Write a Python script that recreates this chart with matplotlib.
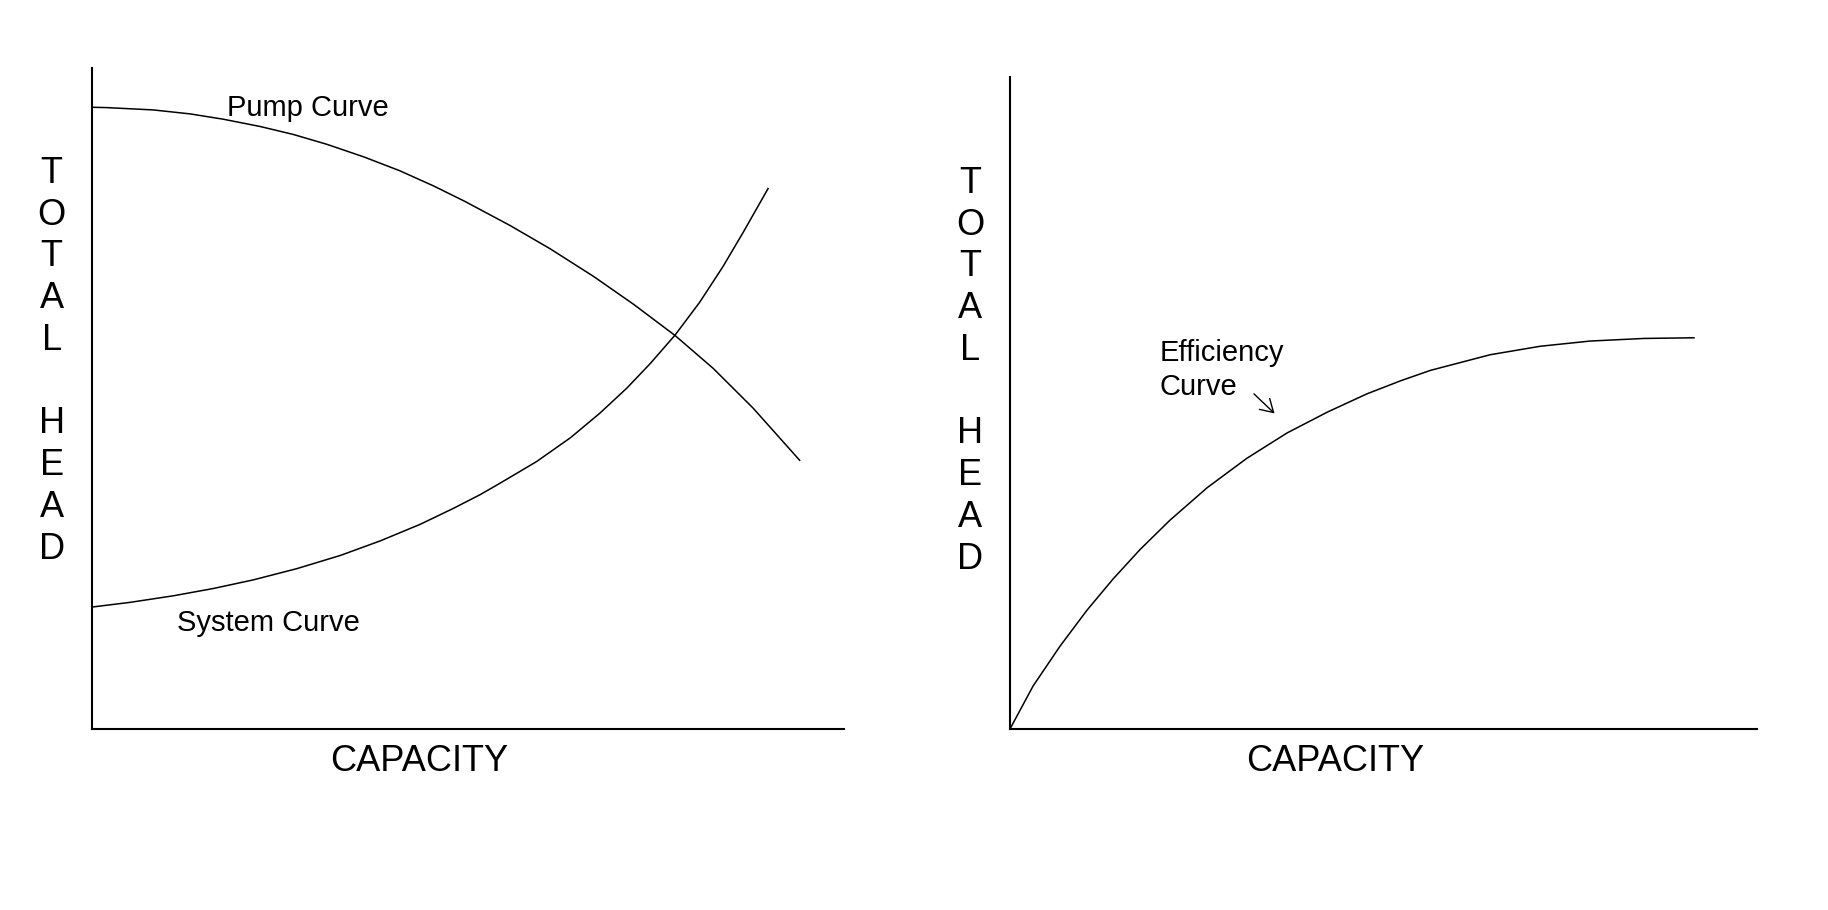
"""
Pump curve vs system curve, and efficiency curve
"""

import matplotlib
matplotlib.use('Agg')
import matplotlib.pyplot as plt

plt.rcParams['font.family'] = ['Liberation Sans', 'DejaVu Sans']

# capacity / head in percent of axis range
pump_x = [0, 1.9, 8.1, 13.0, 17.4, 22.3, 26.7, 31.2, 36.1, 40.9, 45.4, 49.5,
          55.6, 60.9, 66.7, 72.0, 77.5, 82.6, 87.9, 94.1]
pump_y = [94.0, 93.95, 93.6, 93.0, 92.2, 91.1, 89.9, 88.4, 86.5, 84.4, 82.1, 79.8,
          76.1, 72.6, 68.4, 64.2, 59.5, 54.5, 48.5, 40.6]

system_x = [0, 5.0, 10.8, 16.1, 21.4, 27.2, 33.0, 38.3, 43.6, 48.0, 51.6, 54.2,
            59.1, 63.6, 67.5, 71.1, 74.2, 77.5, 80.8, 83.9, 86.6, 89.9]
system_y = [18.4, 19.1, 20.1, 21.2, 22.5, 24.2, 26.2, 28.4, 30.9, 33.3, 35.4, 37.1,
            40.4, 44.0, 47.7, 51.5, 55.2, 59.5, 64.5, 69.9, 75.1, 81.7]

eff_x = [0, 3.1, 6.7, 10.3, 13.8, 17.4, 21.4, 26.4, 31.7, 37.1, 42.5, 47.8,
         52.3, 56.3, 64.3, 71.0, 77.7, 84.9, 91.6]
eff_y = [0, 6.6, 12.7, 18.2, 23.0, 27.5, 32.0, 37.0, 41.5, 45.4, 48.6, 51.4,
         53.4, 55.0, 57.4, 58.7, 59.5, 59.9, 60.0]

ylabel_letters = ['T', 'O', 'T', 'A', 'L', '', 'H', 'E', 'A', 'D']
xlabel = 'CAPACITY'


def setupAxes(ax):
    ax.set_xlim(0, 100)
    ax.set_ylim(0, 100)
    ax.spines['top'].set_visible(False)
    ax.spines['right'].set_visible(False)
    for s in ('left', 'bottom'):
        ax.spines[s].set_linewidth(1.5)
        ax.spines[s].set_color('black')
    ax.set_xticks([])
    ax.set_yticks([])
    ax.text(43.5, -5, xlabel, fontsize=26, ha='center', va='center')


def verticalLabel(fig, x, y0, step):
    for i, ch in enumerate(ylabel_letters):
        fig.text(x, y0 - i * step, ch, fontsize=26, ha='center', va='center')


fig = plt.figure(figsize=(18.28, 9.10), dpi=100)

ax1 = fig.add_axes([0.0505, 0.1993, 0.4112, 0.7264])
setupAxes(ax1)
ax1.plot(pump_x, pump_y, color='black', lw=1.1, solid_joinstyle='round')
ax1.plot(system_x, system_y, color='black', lw=1.1, solid_joinstyle='round')
ax1.text(17.9, 92.7, 'Pump Curve', fontsize=21, ha='left', va='baseline')
ax1.text(11.2, 14.7, 'System Curve', fontsize=21, ha='left', va='baseline')
verticalLabel(fig, 0.0283, 0.8096, 0.0459)

ax2 = fig.add_axes([0.5525, 0.1989, 0.4085, 0.7165])
setupAxes(ax2)
ax2.plot(eff_x, eff_y, color='black', lw=1.1, solid_joinstyle='round')
ax2.text(20.0, 56.5, 'Efficiency', fontsize=21, ha='left', va='baseline')
ax2.text(20.0, 51.2, 'Curve', fontsize=21, ha='left', va='baseline')
ax2.annotate('', xy=(35.7, 48.1), xytext=(32.4, 51.7),
             arrowprops=dict(arrowstyle='->,head_length=0.5,head_width=0.3',
                             mutation_scale=18, color='black', lw=1.0))
verticalLabel(fig, 0.5306, 0.7986, 0.0459)

fig.savefig('out.png', dpi=100, facecolor='white')
